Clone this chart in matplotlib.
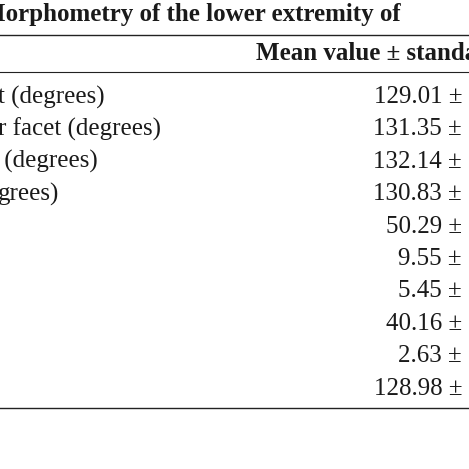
import matplotlib.pyplot as plt

title = "Morphometry of the lower extremity of"
header = "Mean value ± standard deviation"
row_labels = ["t (degrees)", "r facet (degrees)", " (degrees)", "grees)",
              "", "", "", "", "", ""]
row_values = ["129.01 ±", "131.35 ±", "132.14 ±", "130.83 ±", "50.29 ±",
              "9.55 ±", "5.45 ±", "40.16 ±", "2.63 ±", "128.98 ±"]

W = H = 469
fig = plt.figure(figsize=(4.69, 4.69), dpi=100)
ax = fig.add_axes([0, 0, 1, 1])
ax.set_xlim(0, W)
ax.set_ylim(H, 0)
ax.axis('off')

font = dict(family=['Liberation Serif', 'DejaVu Serif'], fontsize=18, color='#1a1a1a')

ax.text(-18, 15, title, ha='left', va='center', fontweight='bold', **font)
ax.plot([0, W], [35, 35], color='#222', lw=1.0)
ax.text(256, 53, header, ha='left', va='center', fontweight='bold', **font)
ax.plot([0, W], [72, 72], color='#222', lw=0.8)

y0, dy = 97, 32.4
for i, (lab, val) in enumerate(zip(row_labels, row_values)):
    y = y0 + i * dy
    ax.text(-2, y, lab, ha='left', va='center', **font)
    ax.text(462, y, val, ha='right', va='center', **font)

ax.plot([0, W], [408, 408], color='#222', lw=1.0)

fig.savefig('out.png', dpi=100)
